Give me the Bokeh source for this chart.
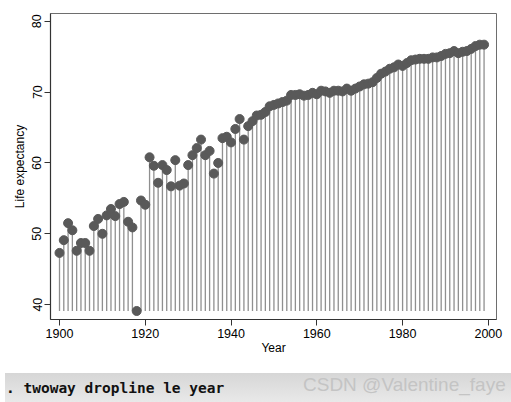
from bokeh.plotting import figure
from bokeh.models import ColumnDataSource, Range1d, FixedTicker, Div
from bokeh.layouts import column
from bokeh.embed import file_html
from bokeh.resources import INLINE

years = list(range(1900, 2000))
life_exp = [
    47.3, 49.1, 51.5, 50.5, 47.6, 48.7, 48.7, 47.6, 51.1, 52.1,
    50.0, 52.6, 53.5, 52.5, 54.2, 54.5, 51.7, 50.9, 39.1, 54.7,
    54.1, 60.8, 59.6, 57.2, 59.7, 59.0, 56.7, 60.4, 56.8, 57.1,
    59.7, 61.1, 62.1, 63.3, 61.1, 61.7, 58.5, 60.0, 63.5, 63.7,
    62.9, 64.8, 66.2, 63.3, 65.2, 65.9, 66.7, 66.8, 67.2, 68.0,
    68.2, 68.4, 68.6, 68.8, 69.6, 69.6, 69.7, 69.5, 69.6, 69.9,
    69.7, 70.2, 70.1, 69.9, 70.2, 70.2, 70.1, 70.5, 70.2, 70.5,
    70.8, 71.1, 71.2, 71.4, 72.0, 72.6, 72.9, 73.3, 73.5, 73.9,
    73.7, 74.1, 74.5, 74.6, 74.7, 74.7, 74.7, 74.9, 74.9, 75.1,
    75.4, 75.5, 75.8, 75.5, 75.7, 75.8, 76.1, 76.5, 76.7, 76.7,
]
x_ticks = [1900, 1920, 1940, 1960, 1980, 2000]
y_ticks = [40, 50, 60, 70, 80]
x_title = "Year"
y_title = "Life expectancy"
command_text = ". twoway dropline le year"
watermark = "CSDN @Valentine_faye"

base = min(life_exp)
src = ColumnDataSource(dict(year=years, le=life_exp, base=[base] * len(years)))

p = figure(width=505, height=368, output_backend="svg", toolbar_location=None,
           x_range=Range1d(1897.9, 2001.9), y_range=Range1d(37.9, 81.1),
           min_border_left=50, min_border_right=9, min_border_top=13, min_border_bottom=49)

p.segment(x0="year", y0="base", x1="year", y1="le", source=src,
          line_color="#8f8f8f", line_width=1.3)
p.scatter(x="year", y="le", source=src, size=9, fill_color="#595959",
          line_color="#595959")

p.xgrid.visible = False
p.ygrid.visible = False
p.outline_line_color = "#6e6e6e"
p.outline_line_width = 1
p.background_fill_color = "white"
p.border_fill_color = "white"

for ax in (p.xaxis[0], p.yaxis[0]):
    ax.axis_line_color = "#333333"
    ax.axis_line_width = 1.2
    ax.major_tick_line_color = "#333333"
    ax.major_tick_out = 6
    ax.major_tick_in = 0
    ax.minor_tick_line_color = None
    ax.major_label_text_font = "Liberation Sans"
    ax.major_label_text_font_size = "12.5px"
    ax.major_label_text_color = "black"
    ax.axis_label_text_font = "Liberation Sans"
    ax.axis_label_text_font_size = "12px"
    ax.axis_label_text_font_style = "normal"
    ax.axis_label_text_color = "black"

p.xaxis[0].ticker = FixedTicker(ticks=x_ticks)
p.yaxis[0].ticker = FixedTicker(ticks=y_ticks)
p.xaxis[0].axis_label = x_title
p.yaxis[0].axis_label = y_title
p.xaxis[0].major_label_standoff = 3
p.xaxis[0].axis_label_standoff = 0
p.yaxis[0].major_label_standoff = 3
p.yaxis[0].axis_label_standoff = 3
p.yaxis[0].major_label_orientation = "vertical"

div = Div(
    text=('<span style="font-family:\'DejaVu Sans Mono\';font-weight:bold;'
          'font-size:14.5px;color:#111;padding-left:1px;">' + command_text + '</span>'
          '<span style="position:absolute;left:298px;top:0px;font-family:\'Liberation Sans\';'
          'font-size:19px;color:#c4c4c4;">' + watermark + '</span>'),
    width=511, height=34,
    styles={"background": "linear-gradient(#d6d6d6, #ececec)",
            "line-height": "24px", "padding-top": "3px",
            "position": "relative"},
)

layout = column(p, div, spacing=0)
open("out.html", "w").write(file_html(layout, INLINE))
